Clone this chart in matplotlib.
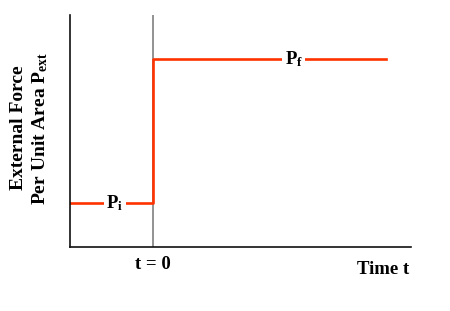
import matplotlib
matplotlib.use("Agg")
import matplotlib.pyplot as plt

plt.rcParams["font.family"] = ["Liberation Serif", "DejaVu Serif"]
plt.rcParams["font.weight"] = "bold"
plt.rcParams["mathtext.fontset"] = "custom"
plt.rcParams["mathtext.rm"] = "Liberation Serif:bold"
plt.rcParams["mathtext.it"] = "Liberation Serif:bold"
plt.rcParams["mathtext.bf"] = "Liberation Serif:bold"

# step in external pressure at t = 0
TIME = [-1.0, 0.0, 0.0, 2.8]
PRESSURE = [0.19, 0.19, 0.81, 0.81]
P_LABELS = ["P$_\\mathrm{i}$", "P$_\\mathrm{f}$"]
P_LABEL_T = [-0.46, 1.69]
P_LABEL_Y = [0.19, 0.81]

fig = plt.figure(figsize=(4.5, 3.11), dpi=100)
ax = fig.add_axes([0.1556, 0.2058, 0.7578, 0.7464])

ax.axvline(0.0, color="#808080", linewidth=1.2, zorder=1)
ax.plot(TIME, PRESSURE, color="#ff3300", linewidth=1.9, zorder=2)

for lab, t, p in zip(P_LABELS, P_LABEL_T, P_LABEL_Y):
    ax.text(t, p, lab, ha="center", va="center", fontsize=13.5, zorder=3,
            bbox=dict(facecolor="white", edgecolor="none", pad=1.8))

ax.set_xlim(-1.0, 3.1)
ax.set_ylim(0.0, 1.0)
ax.set_xticks([])
ax.set_yticks([])
for side in ["top", "right"]:
    ax.spines[side].set_visible(False)
for side in ["left", "bottom"]:
    ax.spines[side].set_linewidth(1.2)
    ax.spines[side].set_color("#111111")

ax.text(0.0, -0.075, "t = 0", ha="center", va="center", fontsize=13.5)
fig.text(383 / 450, 1 - 270 / 311, "Time t", ha="center", va="center", fontsize=13.5)
fig.text(30 / 450, 1 - 128 / 311, "External Force\nPer Unit Area P$_\\mathrm{ext}$",
         rotation=90, ha="center", va="center", fontsize=14, linespacing=1.25)

fig.savefig("out.png", dpi=100)
